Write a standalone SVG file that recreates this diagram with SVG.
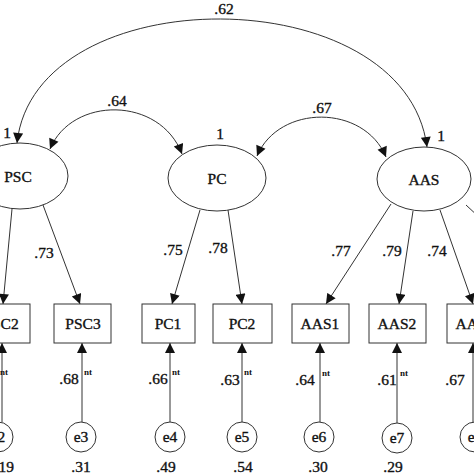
<svg xmlns="http://www.w3.org/2000/svg" width="474" height="474" viewBox="0 0 474 474">
<style>
.sh{fill:#fff;stroke:#333;stroke-width:1}
.ln{fill:none;stroke:#333;stroke-width:1}
.t{font-family:"Liberation Serif","Times New Roman",serif;font-size:15.5px;fill:#111;stroke:#111;stroke-width:0.35;text-anchor:middle}
.l{font-family:"Liberation Serif","Times New Roman",serif;font-size:15.5px;fill:#111;stroke:#111;stroke-width:0.35;text-anchor:middle}
.s{font-family:"Liberation Serif","Times New Roman",serif;font-size:9px;font-weight:bold;fill:#111}
</style>
<defs>
<marker id="a" viewBox="0 0 10 10" refX="10" refY="5" markerWidth="12" markerHeight="10" markerUnits="userSpaceOnUse" orient="auto-start-reverse"><path d="M0,0 L10,5 L0,10 z" fill="#111"/></marker>
</defs>
<rect width="474" height="474" fill="#fff"/>
<g id="connectors">
<path class="ln" d="M17,143 C35,-23 405,-23 427,147" marker-start="url(#a)" marker-end="url(#a)"/>
<path class="ln" d="M50,149 C72,96 160,96 182,154" marker-start="url(#a)" marker-end="url(#a)"/>
<path class="ln" d="M257,156 C279,104 364,104 386,157" marker-start="url(#a)" marker-end="url(#a)"/>
<line class="ln" x1="12" y1="209" x2="3" y2="304" marker-end="url(#a)"/>
<line class="ln" x1="43" y1="205" x2="80" y2="304" marker-end="url(#a)"/>
<line class="ln" x1="200" y1="210" x2="172" y2="304" marker-end="url(#a)"/>
<line class="ln" x1="228" y1="210" x2="242" y2="304" marker-end="url(#a)"/>
<line class="ln" x1="391" y1="204" x2="326" y2="304" marker-end="url(#a)"/>
<line class="ln" x1="413" y1="211" x2="399" y2="304" marker-end="url(#a)"/>
<line class="ln" x1="440" y1="210" x2="473" y2="304" marker-end="url(#a)"/>
<line class="ln" x1="466" y1="205" x2="480" y2="218"/>
<line class="ln" x1="2" y1="422" x2="2" y2="343" marker-end="url(#a)"/>
<line class="ln" x1="82" y1="422" x2="82" y2="343" marker-end="url(#a)"/>
<line class="ln" x1="170" y1="422" x2="170" y2="343" marker-end="url(#a)"/>
<line class="ln" x1="242" y1="422" x2="242" y2="343" marker-end="url(#a)"/>
<line class="ln" x1="320" y1="422" x2="320" y2="343" marker-end="url(#a)"/>
<line class="ln" x1="397" y1="423" x2="397" y2="343" marker-end="url(#a)"/>
<line class="ln" x1="473" y1="422" x2="473" y2="343" marker-end="url(#a)"/>
</g>
<g id="labels">
<text class="l" x="224" y="14">.62</text>
<text class="l" x="117" y="106">.64</text>
<text class="l" x="322" y="113">.67</text>
<text class="l" x="7" y="138">1</text>
<text class="l" x="220" y="139">1</text>
<text class="l" x="441" y="141">1</text>
<text class="l" x="44" y="258">.73</text>
<text class="l" x="173" y="255">.75</text>
<text class="l" x="218" y="253">.78</text>
<text class="l" x="341" y="256">.77</text>
<text class="l" x="392" y="256">.79</text>
<text class="l" x="437" y="256">.74</text>
<text class="l" x="69" y="384">.68</text>
<text class="l" x="158" y="384">.66</text>
<text class="l" x="230" y="385">.63</text>
<text class="l" x="305" y="385">.64</text>
<text class="l" x="387" y="385">.61</text>
<text class="l" x="455" y="385">.67</text>
<text class="s" x="0" y="375">nt</text>
<text class="s" x="84" y="375">nt</text>
<text class="s" x="172" y="375">nt</text>
<text class="s" x="244" y="375">nt</text>
<text class="s" x="322" y="376">nt</text>
<text class="s" x="400" y="376">nt</text>
<text class="l" x="14" y="472" style="text-anchor:end">.19</text>
<text class="l" x="81" y="472">.31</text>
<text class="l" x="166" y="472">.49</text>
<text class="l" x="243" y="472">.54</text>
<text class="l" x="318" y="472">.30</text>
<text class="l" x="393" y="472">.29</text>
</g>
<g id="PSC"><ellipse class="sh" cx="20" cy="176" rx="48" ry="33"/><text class="t" x="18" y="182">PSC</text></g>
<g id="PC"><ellipse class="sh" cx="217" cy="178" rx="49" ry="33"/><text class="t" x="217" y="184">PC</text></g>
<g id="AAS"><ellipse class="sh" cx="424" cy="179" rx="47" ry="32"/><text class="t" x="424" y="185">AAS</text></g>
<g id="PSC2"><rect class="sh" x="-27" y="304" width="57" height="39"/><text class="t" x="1" y="329">PSC2</text></g>
<g id="PSC3"><rect class="sh" x="54" y="304" width="57" height="39"/><text class="t" x="83" y="329">PSC3</text></g>
<g id="PC1"><rect class="sh" x="142" y="304" width="53" height="39"/><text class="t" x="168" y="329">PC1</text></g>
<g id="PC2"><rect class="sh" x="213" y="304" width="59" height="39"/><text class="t" x="242" y="329">PC2</text></g>
<g id="AAS1"><rect class="sh" x="292" y="304" width="57" height="39"/><text class="t" x="320" y="329">AAS1</text></g>
<g id="AAS2"><rect class="sh" x="369" y="304" width="57" height="39"/><text class="t" x="397" y="329">AAS2</text></g>
<g id="AAS3"><rect class="sh" x="447" y="304" width="57" height="39"/><text class="t" x="475" y="329">AAS3</text></g>
<g id="e2"><circle class="sh" cx="-2" cy="437" r="15"/><text class="t" x="-2" y="442">e2</text></g>
<g id="e3"><circle class="sh" cx="81" cy="437" r="15"/><text class="t" x="81" y="442">e3</text></g>
<g id="e4"><circle class="sh" cx="170" cy="437" r="15"/><text class="t" x="170" y="442">e4</text></g>
<g id="e5"><circle class="sh" cx="242" cy="437" r="15"/><text class="t" x="242" y="442">e5</text></g>
<g id="e6"><circle class="sh" cx="319" cy="437" r="15"/><text class="t" x="319" y="442">e6</text></g>
<g id="e7"><circle class="sh" cx="397" cy="438" r="15"/><text class="t" x="397" y="443">e7</text></g>
<g id="e8"><circle class="sh" cx="475" cy="437" r="15"/><text class="t" x="475" y="442">e8</text></g>
</svg>
